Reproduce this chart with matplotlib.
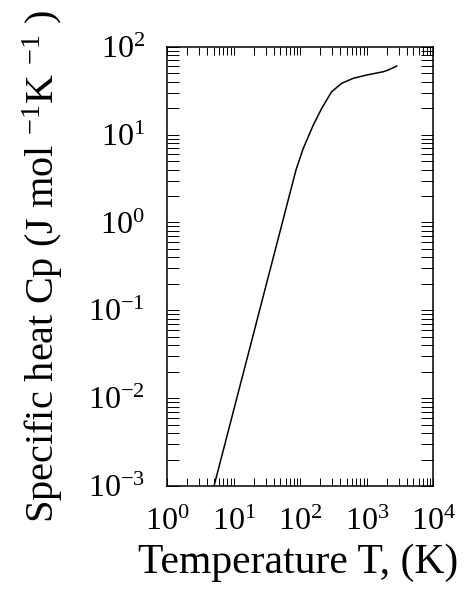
import matplotlib
matplotlib.use("Agg")
import matplotlib.pyplot as plt
from matplotlib.ticker import LogLocator, NullFormatter, FixedLocator, FixedFormatter

plt.rcParams['font.family'] = ['Liberation Serif', 'DejaVu Serif']
plt.rcParams['mathtext.fontset'] = 'custom'
plt.rcParams['mathtext.rm'] = 'Liberation Serif'
plt.rcParams['mathtext.it'] = 'Liberation Serif:italic'
plt.rcParams['mathtext.bf'] = 'Liberation Serif:bold'
plt.rcParams['axes.unicode_minus'] = False

# Data
temperature_K = [5.04, 86.1, 110.9, 157, 210, 296.5, 420, 627, 995, 1770, 2104, 2818]
cp_J_mol_K = [0.001, 3.95, 6.98, 12.85, 19.9, 30.8, 38.3, 43.7, 47.6, 51.9, 54.3, 60.3]

x_ticks = [1, 10, 100, 1000, 10000]
x_tick_labels = [r'$10^{0}$', r'$10^{1}$', r'$10^{2}$', r'$10^{3}$', r'$10^{4}$']
y_ticks = [1e-3, 1e-2, 1e-1, 1, 10, 100]
y_tick_labels = [r'$10^{-3}$', r'$10^{-2}$', r'$10^{-1}$', r'$10^{0}$', r'$10^{1}$', r'$10^{2}$']

fig = plt.figure(figsize=(4.74, 6.0), dpi=100)
ax = fig.add_axes([167.3 / 474, 1 - 486 / 600, 266 / 474, 439.3 / 600])

ax.plot(temperature_K, cp_J_mol_K, color='black', lw=1.1)

ax.set_xscale('log')
ax.set_yscale('log')
ax.set_xlim(1, 1e4)
ax.set_ylim(1e-3, 1e2)

ax.xaxis.set_major_locator(FixedLocator(x_ticks))
ax.xaxis.set_major_formatter(FixedFormatter(x_tick_labels))
ax.yaxis.set_major_locator(FixedLocator(y_ticks))
ax.yaxis.set_major_formatter(FixedFormatter(y_tick_labels))
ax.xaxis.set_minor_locator(LogLocator(base=10, subs=range(2, 10), numticks=20))
ax.yaxis.set_minor_locator(LogLocator(base=10, subs=range(2, 10), numticks=20))
ax.xaxis.set_minor_formatter(NullFormatter())
ax.yaxis.set_minor_formatter(NullFormatter())

ax.tick_params(axis='x', which='both', direction='in', top=True, bottom=True,
               length=5.8, width=0.7, labelsize=23, pad=16)
ax.tick_params(axis='y', which='both', direction='in', left=True, right=True,
               length=8.6, width=0.7, labelsize=23, pad=16)
for s in ax.spines.values():
    s.set_linewidth(1.1)

ax.set_xlabel('Temperature T, (K)', fontsize=30)
ax.set_ylabel(r'Specific heat Cp (J mol $^{-1}$K $^{-1}$ )', fontsize=29)
ax.xaxis.set_label_coords(0.49, -0.132)
ax.yaxis.set_label_coords(-0.385, 0.5)

fig.savefig('out.png', dpi=100)
